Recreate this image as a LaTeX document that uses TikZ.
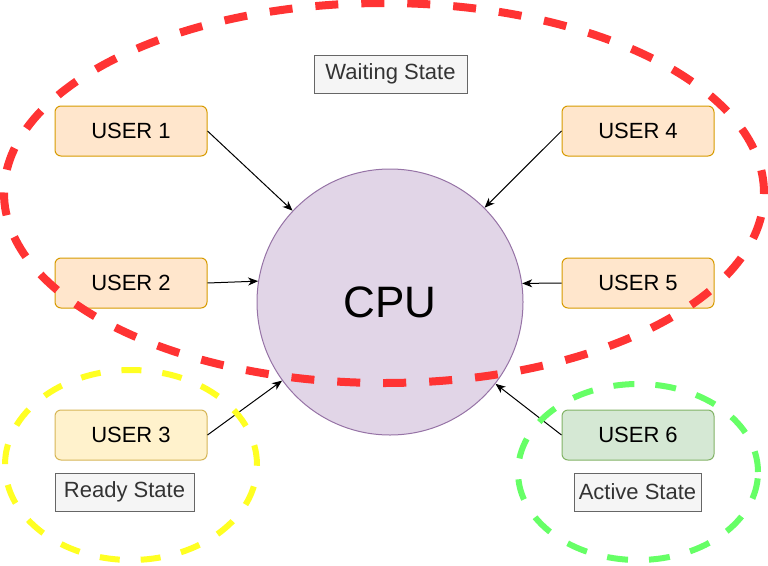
\documentclass[tikz,border=0pt]{standalone}
\usepackage{fontspec}
\setmainfont{Liberation Sans}
\usetikzlibrary{arrows.meta}
\definecolor{cpufill}{HTML}{E1D5E7}
\definecolor{cpudraw}{HTML}{9673A6}
\definecolor{orfill}{HTML}{FFE6CC}
\definecolor{ordraw}{HTML}{D79B00}
\definecolor{yefill}{HTML}{FFF2CC}
\definecolor{yedraw}{HTML}{D6B656}
\definecolor{grfill}{HTML}{D5E8D4}
\definecolor{grdraw}{HTML}{82B366}
\definecolor{lbfill}{HTML}{F5F5F5}
\definecolor{lbdraw}{HTML}{666666}
\definecolor{lbtext}{HTML}{333333}
\definecolor{redd}{HTML}{FF3333}
\definecolor{yelld}{HTML}{FFFF22}
\definecolor{greend}{HTML}{66FF66}
\tikzset{
  userbox/.style={rectangle, rounded corners=6pt, minimum width=152pt, minimum height=50pt,
    inner sep=0pt, line width=1pt, font=\fontsize{22}{26}\selectfont},
  orbox/.style={userbox, fill=orfill, draw=ordraw},
  yebox/.style={userbox, fill=yefill, draw=yedraw},
  grbox/.style={userbox, fill=grfill, draw=grdraw},
  statelabel/.style={rectangle, fill=lbfill, draw=lbdraw, line width=1pt, minimum height=38pt,
    inner sep=0pt, text=lbtext, font=\fontsize{22}{26}\selectfont},
  conn/.style={draw=black, line width=1pt, -{Stealth[length=10pt,width=8pt,inset=3pt]}},
}
\begin{document}
\begin{tikzpicture}[x=1pt,y=-1pt]
\useasboundingbox (0,0) rectangle (768,565);
\node[circle, minimum size=266pt, inner sep=0pt, fill=cpufill, draw=cpudraw, line width=1pt,
  font=\fontsize{44}{50}\selectfont] (cpu) at (390,302) {CPU};
\node[orbox] (u1) at (131,131) {USER 1};
\node[orbox] (u2) at (131,283) {USER 2};
\node[yebox] (u3) at (131,435) {USER 3};
\node[orbox] (u4) at (638,131) {USER 4};
\node[orbox] (u5) at (638,283) {USER 5};
\node[grbox] (u6) at (638,435) {USER 6};
\draw[conn] (u1.east) -- (cpu);
\draw[conn] (u2.east) -- (cpu.171.8);
\draw[conn] (u3.east) -- (cpu);
\draw[conn] (u4.west) -- (cpu);
\draw[conn] (u5.west) -- (cpu.8.2);
\draw[conn] (u6.west) -- (cpu);
\node[statelabel, minimum width=153pt] (ws) at (390.5,74) {Waiting State};
\node[statelabel, minimum width=139pt] (rs) at (124.5,492) {Ready State};
\node[statelabel, minimum width=127pt] (as) at (637.5,492) {Active State};
\draw[redd, line width=8pt, dash pattern=on 23pt off 23pt] (384,193) ellipse [x radius=380pt, y radius=190pt];
\draw[yelld, line width=6pt, dash pattern=on 20pt off 21pt] (131,465) ellipse [x radius=126pt, y radius=95pt];
\draw[greend, line width=6pt, dash pattern=on 21pt off 21pt] (638,472) ellipse [x radius=120pt, y radius=88pt];
\end{tikzpicture}
\end{document}
